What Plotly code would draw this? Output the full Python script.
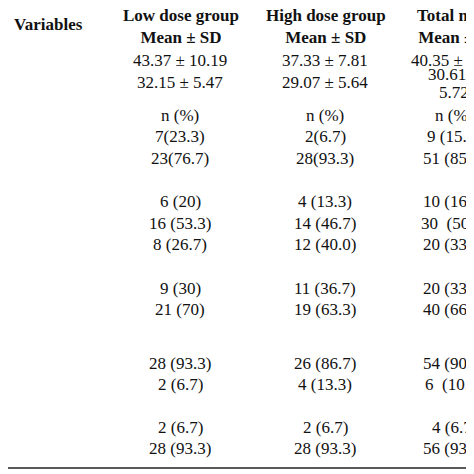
import plotly.graph_objects as go

labels = ["Age (years)", "BMI (Kg/m2)", "Gender", "Male", "Female", "Education level", "Primary",
          "Secondary", "College", "Occupational", "Status", "Employed", "Unemployed",
          "Marital Status", "Married", "Unmarried", "Smoking", "Yes", "No"]
label_y = [52, 74, 107, 128, 150, 172, 193, 215, 236, 258, 280, 301, 322, 344, 366, 387, 409, 430, 451]

value_y = [52, 74, 107, 128, 150, 193, 215, 236, 280, 301, 355, 376, 419, 440]
low = ["43.37 ± 10.19", "32.15 ± 5.47", "n (%)", "7(23.3)", "23(76.7)", "6 (20)", "16 (53.3)", "8 (26.7)",
       "9 (30)", "21 (70)", "28 (93.3)", "2 (6.7)", "2 (6.7)", "28 (93.3)"]
high = ["37.33 ± 7.81", "29.07 ± 5.64", "n (%)", "2(6.7)", "28(93.3)", "4 (13.3)", "14 (46.7)", "12 (40.0)",
        "11 (36.7)", "19 (63.3)", "26 (86.7)", "4 (13.3)", "2 (6.7)", "28 (93.3)"]
total_y = [52, 66, 84, 107, 128, 150, 193, 215, 236, 280, 301, 355, 376, 419, 440]
total = ["40.35 ± 9.32", "30.61 ±", "5.72", "n (%)", "9 (15.0)", "51 (85.0)", "10 (16.7)", "30  (50.0)",
         "20 (33.3)", "20 (33.3)", "40 (66.7)", "54 (90.0)", "6  (10.0)", "4 (6.7)", "56 (93.3)"]
headers = ["Variables", "Low dose group<br>Mean ± SD", "High dose group<br>Mean ± SD", "Total n (60)<br>Mean ± SD"]
header_x = [40, 173, 318, 450]
footnote = "BMI = body mass index"

FAM = "Liberation Serif, Times New Roman, serif"
F = dict(family=FAM, size=17, color="#111")
fig = go.Figure()
anns = []
for t, y in zip(labels, label_y):
    anns.append(dict(x=-12, y=y, xref="x", yref="y", text=t, xanchor="left", yanchor="middle",
                     showarrow=False, font=F))
for cx, col, ys in [(172, low, value_y), (317, high, value_y), (446, total, total_y)]:
    for t, y in zip(col, ys):
        anns.append(dict(x=cx, y=y, xref="x", yref="y", text=t, xanchor="center", yanchor="middle",
                         showarrow=False, font=F))
for i, (h, hx) in enumerate(zip(headers, header_x)):
    anns.append(dict(x=hx, y=18 if i else 16, xref="x", yref="y", text="<b>%s</b>" % h, xanchor="center",
                     yanchor="middle", showarrow=False, font=dict(family=FAM, size=17, color="#111")))
anns.append(dict(x=-12, y=468, xref="x", yref="y", text=footnote, xanchor="left", yanchor="middle",
                 showarrow=False, font=dict(family=FAM, size=14, color="#111")))
fig.add_shape(type="line", x0=0, x1=474, y0=460, y1=460, line=dict(color="#222", width=1.5))
fig.update_layout(width=474, height=474, margin=dict(l=0, r=0, t=0, b=0), showlegend=False,
                  plot_bgcolor="white", paper_bgcolor="white", annotations=anns,
                  xaxis=dict(range=[0, 474], visible=False, fixedrange=True),
                  yaxis=dict(range=[474, 0], visible=False, fixedrange=True))
fig.write_html("out.html")
